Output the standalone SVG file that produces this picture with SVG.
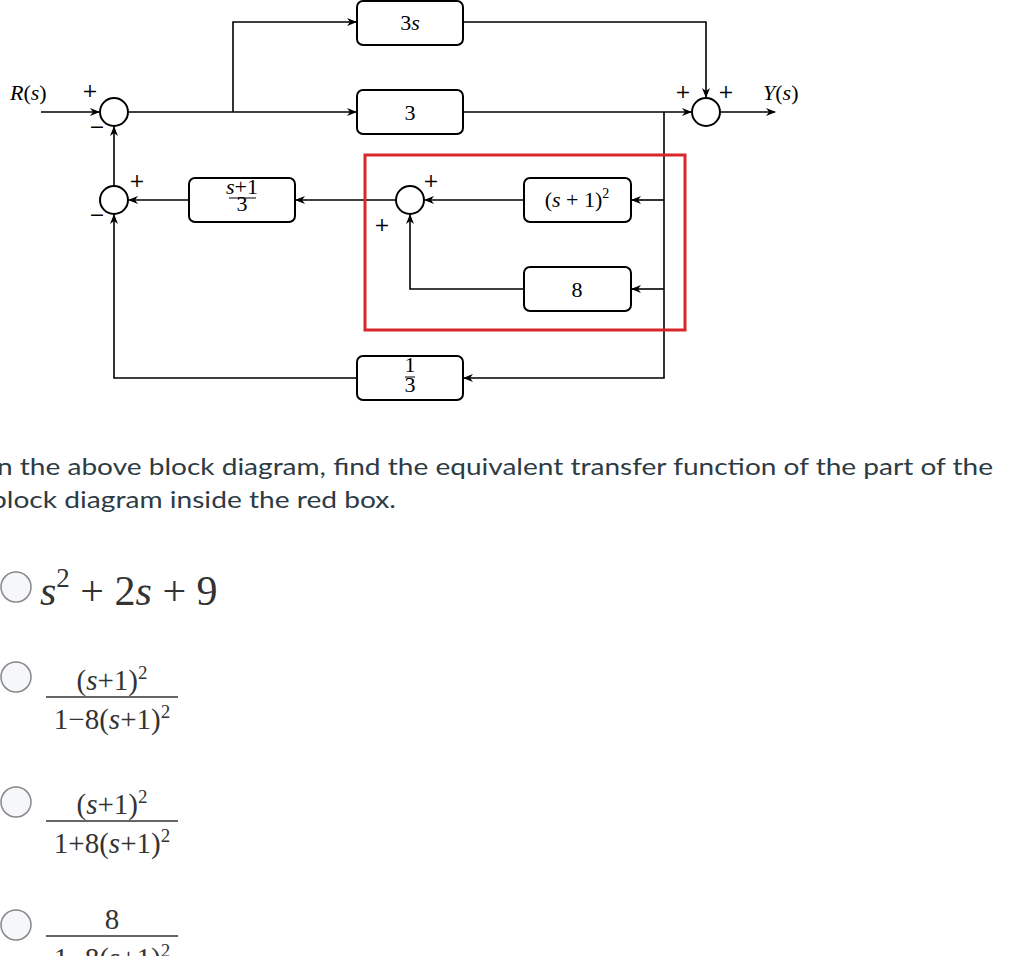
<svg xmlns="http://www.w3.org/2000/svg" width="1024" height="956" viewBox="0 0 1024 956">
<style>
.b{fill:#fff;stroke:#000;stroke-width:2}
.s{fill:#fff;stroke:#000;stroke-width:2}
.w{fill:none;stroke:#000;stroke-width:1.6}
.t{font-family:"Liberation Serif",serif;font-size:22px;fill:#000}
.ti{font-family:"Liberation Serif",serif;font-size:22px;font-style:italic;fill:#000}
.sg{font-family:"DejaVu Serif",serif;font-size:19px;fill:#000}
.q{font-family:Lato,sans-serif;font-size:24px;fill:#2d3b45}
.m{font-family:"Liberation Serif",serif;fill:#333}
.r{fill:#f5f7fa;stroke:#888;stroke-width:1.5}
</style>
<defs><marker id="a" markerWidth="10" markerHeight="8" refX="9" refY="4" orient="auto" markerUnits="userSpaceOnUse"><path d="M0,0 L10,4 L0,8 L3,4 z" fill="#000"/></marker></defs>
<g id="connectors" class="w">
<path d="M41,112 H99" marker-end="url(#a)"/>
<path d="M128,112 H356" marker-end="url(#a)"/>
<path d="M233,112 V22 H356" marker-end="url(#a)"/>
<path d="M463,22 H706 V97" marker-end="url(#a)"/>
<path d="M463,112 H691" marker-end="url(#a)"/>
<path d="M720,112 H775" marker-end="url(#a)"/>
<path d="M664,112 V378 H464" marker-end="url(#a)"/>
<path d="M664,200 H632" marker-end="url(#a)"/>
<path d="M664,289 H632" marker-end="url(#a)"/>
<path d="M524,200 H425" marker-end="url(#a)"/>
<path d="M524,289 H410 V215" marker-end="url(#a)"/>
<path d="M396,200 H296" marker-end="url(#a)"/>
<path d="M189,200 H129" marker-end="url(#a)"/>
<path d="M114,186 V127" marker-end="url(#a)"/>
<path d="M357,378 H114 V215" marker-end="url(#a)"/>
</g>
<rect x="365" y="155" width="320" height="175" fill="none" stroke="#d9262b" stroke-width="3"/>
<g id="sum1"><circle class="s" cx="114" cy="112" r="14"/><text class="sg" x="82" y="97">+</text><text class="sg" x="89" y="133">−</text></g>
<g id="sum2"><circle class="s" cx="706" cy="112" r="14"/><text class="sg" x="675" y="98">+</text><text class="sg" x="718" y="98">+</text></g>
<g id="sum3"><circle class="s" cx="410" cy="200" r="14"/><text class="sg" x="423" y="187">+</text><text class="sg" x="374" y="231">+</text></g>
<g id="sum4"><circle class="s" cx="114" cy="200" r="14"/><text class="sg" x="129" y="187">+</text><text class="sg" x="89" y="221">−</text></g>
<g id="R"><text class="ti" x="10" y="100">R<tspan font-style="normal">(</tspan>s<tspan font-style="normal">)</tspan></text></g>
<g id="Y"><text class="ti" x="763" y="100">Y<tspan font-style="normal">(</tspan>s<tspan font-style="normal">)</tspan></text></g>
<g id="b3s"><rect class="b" x="357" y="1" width="106" height="44" rx="6"/><text class="t" x="410" y="30" text-anchor="middle">3<tspan font-style="italic">s</tspan></text></g>
<g id="b3"><rect class="b" x="357" y="90" width="106" height="44" rx="6"/><text class="t" x="410" y="120" text-anchor="middle">3</text></g>
<g id="bs1"><rect class="b" x="189" y="178" width="106" height="44" rx="6"/><text class="t" x="242" y="194" text-anchor="middle" font-size="13"><tspan font-style="italic">s</tspan>+1</text><line x1="229" y1="198" x2="256" y2="198" stroke="#000" stroke-width="1"/><text class="t" x="242" y="211" text-anchor="middle" font-size="13">3</text></g>
<g id="bsq"><rect class="b" x="524" y="178" width="107" height="44" rx="6"/><text class="t" x="577" y="207" text-anchor="middle">(<tspan font-style="italic">s</tspan> + 1)<tspan font-size="14" dy="-9">2</tspan></text></g>
<g id="b8"><rect class="b" x="524" y="267" width="107" height="44" rx="6"/><text class="t" x="577" y="297" text-anchor="middle">8</text></g>
<g id="b13"><rect class="b" x="357" y="356" width="106" height="44" rx="6"/><text class="t" x="410" y="372" text-anchor="middle" font-size="13">1</text><line x1="405" y1="377" x2="415" y2="377" stroke="#000" stroke-width="1"/><text class="t" x="410" y="392" text-anchor="middle" font-size="13">3</text></g>
<text class="q" x="-3" y="475" textLength="996" lengthAdjust="spacingAndGlyphs">n the above block diagram, find the equivalent transfer function of the part of the</text>
<text class="q" x="-9" y="508" textLength="405" lengthAdjust="spacingAndGlyphs">block diagram inside the red box.</text>
<circle class="r" cx="16" cy="587" r="15"/>
<text class="m" x="40" y="605" font-size="42"><tspan font-style="italic">s</tspan><tspan font-size="27" dy="-18">2</tspan><tspan dy="18"> + 2</tspan><tspan font-style="italic">s</tspan> + 9</text>
<circle class="r" cx="16" cy="677" r="15"/>
<text class="m" x="112" y="690" font-size="29" text-anchor="middle">(<tspan font-style="italic">s</tspan>+1)<tspan font-size="19" dy="-11">2</tspan></text>
<line x1="46" y1="697" x2="178" y2="697" stroke="#333" stroke-width="1.5"/>
<text class="m" x="112" y="729" font-size="29" text-anchor="middle">1−8(<tspan font-style="italic">s</tspan>+1)<tspan font-size="19" dy="-11">2</tspan></text>
<circle class="r" cx="16" cy="802" r="15"/>
<text class="m" x="112" y="814" font-size="29" text-anchor="middle">(<tspan font-style="italic">s</tspan>+1)<tspan font-size="19" dy="-11">2</tspan></text>
<line x1="46" y1="821" x2="178" y2="821" stroke="#333" stroke-width="1.5"/>
<text class="m" x="112" y="853" font-size="29" text-anchor="middle">1+8(<tspan font-style="italic">s</tspan>+1)<tspan font-size="19" dy="-11">2</tspan></text>
<circle class="r" cx="16" cy="925" r="15"/>
<text class="m" x="112" y="929" font-size="29" text-anchor="middle">8</text>
<line x1="46" y1="936" x2="178" y2="936" stroke="#333" stroke-width="1.5"/>
<text class="m" x="112" y="968" font-size="29" text-anchor="middle">1−8(<tspan font-style="italic">s</tspan>+1)<tspan font-size="19" dy="-11">2</tspan></text>
</svg>
